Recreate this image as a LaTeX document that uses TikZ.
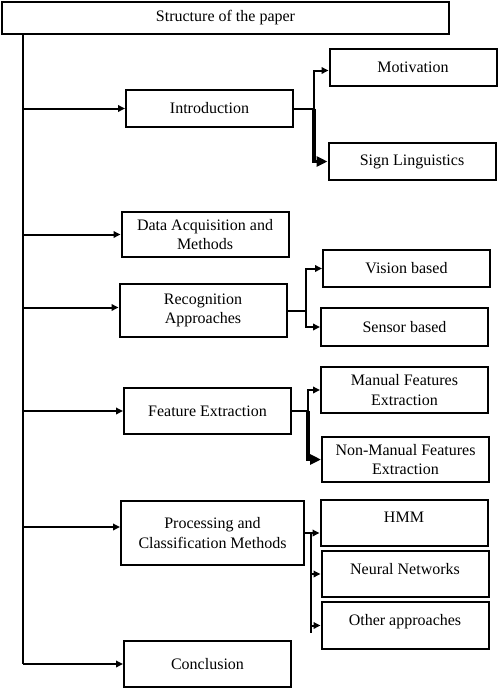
\documentclass[tikz,border=0pt]{standalone}
\usepackage{fontspec}
\setmainfont{Liberation Serif}
\usetikzlibrary{arrows.meta}

\tikzset{
  box/.style={draw, line width=2pt, minimum width=167pt, minimum height=37pt,
    inner sep=0pt, align=center, font=\fontsize{16}{19.5}\selectfont},
  high/.style={text depth=11pt},
  link/.style={line width=2pt, -{Triangle[length=7pt,width=6.5pt]}},
  boldlink/.style={line width=3.4pt, -{Triangle[length=11pt,width=10pt]}},
  joint/.style={line width=2pt}
}

\begin{document}
\begin{tikzpicture}[x=1pt,y=-1pt]
\useasboundingbox (0,0) rectangle (499,689);

\node[box, minimum width=447pt, minimum height=32pt] (top) at (225.5,18) {Structure of the paper};

\node[box] (intro) at (209.5,108.5) {Introduction};
\node[box] (motiv) at (413,67.5) {Motivation};
\node[box] (sign) at (412,161.5) {Sign Linguistics};

\node[box, minimum height=45pt] (data) at (205,234.5) {Data Acquisition and\\Methods};

\node[box, minimum height=53pt] (recog) at (203,310.5) {Recognition\\Approaches};
\node[box] (vision) at (406.5,268.5) {Vision based};
\node[box, minimum height=38pt] (sensor) at (404.5,327) {Sensor based};

\node[box, minimum height=46pt] (feat) at (207.5,411) {Feature Extraction};
\node[box, minimum height=46pt] (manual) at (404.5,390) {Manual Features\\Extraction};
\node[box, minimum height=45pt] (nonman) at (405.5,459.5) {Non-Manual Features\\Extraction};

\node[box, minimum width=183pt, minimum height=64pt] (proc) at (212.5,533) {Processing and\\Classification Methods};
\node[box, high, minimum height=46pt] (hmm) at (404,523) {HMM};
\node[box, high, minimum height=46pt] (neural) at (405,574) {Neural Networks};
\node[box, high, minimum height=47pt] (other) at (405,625.5) {Other approaches};

\node[box, minimum height=46pt] (concl) at (207.5,664) {Conclusion};

%trunk
\coordinate (trunkend) at (23,664);
\draw[joint] (top.south -| trunkend) -- (trunkend);
\draw[link] (trunkend) -- (concl.west);
\draw[link] (intro.west -| trunkend) -- (intro.west);
\draw[link] (data.west -| trunkend) -- (data.west);
\draw[link] ([yshift=3pt]recog.west -| trunkend) -- ([yshift=3pt]recog.west);
\draw[link] (feat.west -| trunkend) -- (feat.west);
\draw[link] ([yshift=6pt]proc.west -| trunkend) -- ([yshift=6pt]proc.west);

%branches
\draw[joint] (intro.east) -- ++(20,0) coordinate (ij);
\draw[link] (ij) |- ([yshift=-3pt]motiv.west);
\draw[boldlink] (ij) |- (sign.west);

\draw[joint] (recog.east) -- ++(18,0) coordinate (rj);
\draw[link] (rj) |- (vision.west);
\draw[link] (rj) |- (sensor.west);

\draw[joint] (feat.east) -- ++(16,0) coordinate (fj);
\draw[link] (fj) |- (manual.west);
\draw[boldlink] (fj) |- (nonman.west);

\coordinate (pj) at ([xshift=6pt]proc.east);
\draw[link] (proc.east) -- (hmm.west |- proc.east);
\draw[joint] (pj) -- ++(0,100);
\draw[link] (pj |- neural.west) -- (neural.west);
\draw[link] (pj |- other.west) -- (other.west);

\end{tikzpicture}
\end{document}
